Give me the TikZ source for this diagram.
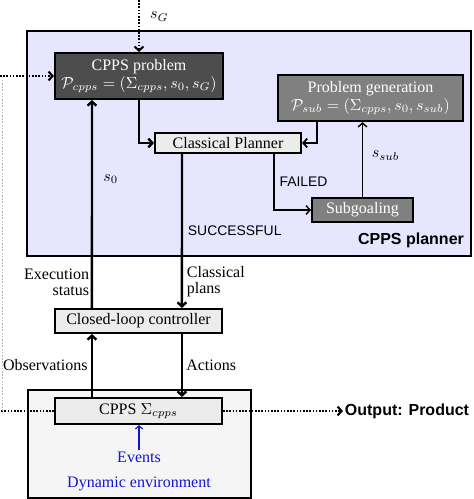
\documentclass[tikz,border=0pt]{standalone}
\usepackage{fontspec}
\setmainfont{Liberation Serif}
\setsansfont{Liberation Sans}
\usetikzlibrary{arrows.meta,calc}
\definecolor{plannerbg}{RGB}{230,230,255}
\definecolor{envbg}{RGB}{245,245,245}
\definecolor{lightbox}{RGB}{236,236,236}
\definecolor{darkbox}{RGB}{77,77,77}
\definecolor{midbox}{RGB}{128,128,128}
\definecolor{evblue}{RGB}{20,20,210}
\begin{document}
\begin{tikzpicture}[x=0.625pt,y=-0.625pt,
  box/.style={draw=black,line width=1.3pt,inner sep=0pt,rectangle},
  lightb/.style={box,fill=lightbox},
  darkb/.style={box,fill=darkbox,text=white,align=center},
  midb/.style={box,fill=midbox,text=white,align=center},
  tip/.style={-{Straight Barb[length=2.5pt,width=5.5pt]}},
  arr/.style={line width=1.5pt,tip},
  thinarr/.style={line width=0.9pt,tip},
  dotline/.style={line width=1.3pt,dash pattern=on 1pt off 1pt},
  dotarr/.style={dotline,tip},
  lbl/.style={font=\fontsize{8.7}{10}\selectfont\sffamily,inner sep=1pt},
  bold/.style={font=\sffamily\bfseries,inner sep=1pt},
  txt/.style={inner sep=1pt}
]
\useasboundingbox (0,0) rectangle (474,499);

% containers
\node[box,fill=plannerbg,minimum width=277.5pt,minimum height=140.6pt] (planner) at (249,143.5) {};
\node[box,fill=envbg,minimum width=139.4pt,minimum height=67.5pt] (env) at (139.5,444) {};

% nodes
\node[darkb,minimum width=105pt,minimum height=28.75pt] (prob) at (139,76)
  {CPPS problem\\[-1pt]$\mathcal{P}_{cpps}=(\Sigma_{cpps},s_0,s_G)$};
\node[midb,minimum width=115.6pt,minimum height=28.75pt] (probgen) at (370.5,98)
  {Problem generation\\[-1pt]$\mathcal{P}_{sub}=(\Sigma_{cpps},s_0,s_{sub})$};
\node[lightb,minimum width=91.25pt,minimum height=12.5pt] (cplanner) at (228,143) {Classical Planner};
\node[midb,minimum width=63.1pt,minimum height=15pt] (subgoal) at (362.5,210) {Subgoaling};
\node[lightb,minimum width=104.4pt,minimum height=15pt] (clc) at (138.5,321) {Closed-loop controller};
\node[lightb,minimum width=104.4pt,minimum height=16.25pt] (sigma) at (138.5,411) {CPPS $\Sigma_{cpps}$};

\node[bold] (plannerlbl) at (411,240) {CPPS planner};
\node[txt,text=evblue] (events) at (139,457) {Events};
\node[txt,text=evblue] (dynenv) at (139,484) {Dynamic environment};
\node[bold,anchor=west] (out) at (343,411) {Output: Product};

% coordinates
\coordinate (sgtop) at (139,0);
\coordinate (fbB) at (0,76);
\coordinate (fbA) at (0,411);
\coordinate (fbC) at (2.5,411);
\coordinate (fbD) at (2.5,76);

% dotted connectors
\draw[dotarr] (sgtop) -- (prob.north) node[pos=0.32,right=3pt] {$s_G$};
\draw[dotarr] (fbB) -- (prob.west);
\draw[dotline] (sigma.west) -- (fbA);
\draw[black!30,line width=0.9pt,dash pattern=on 1pt off 1pt] (fbC) -- (fbD);
\draw[dotarr] (sigma.east) -- (out.west);

% planner internals
\draw[arr] (prob.south) |- (cplanner.west);
\draw[thinarr,line width=1.1pt] ($(probgen.south west)+(40,0)$) |- (cplanner.east);
\draw[thinarr] ($(cplanner.south east)+(-28,0)$) |- (subgoal.west)
  node[lbl,pos=0.25,right=2pt] {FAILED};
\draw[thinarr] (subgoal.north) -- (subgoal.north |- probgen.south)
  node[pos=0.55,right=2pt] {$s_{sub}$};

% vertical links
\draw[arr] ($(clc.north west)+(38,0)$) -- ($(prob.south west)+(38,0)$)
  node[pos=0.62,right=3pt] {$s_0$};
\draw[arr] ($(cplanner.south west)+(28,0)$) -- ($(clc.north west)+(128,0)$)
  node[lbl,pos=0.5,right=2pt] {SUCCESSFUL};
\draw[arr] ($(sigma.north west)+(38,0)$) -- ($(clc.south west)+(38,0)$)
  node[txt,midway,left=1pt] {Observations};
\draw[arr] ($(clc.south west)+(128,0)$) -- ($(sigma.north west)+(128,0)$)
  node[txt,midway,right=1pt] {Actions};

% labels between planner and controller
\node[txt,anchor=east,align=right] (execlbl) at (91,282) {Execution\\[-2pt]status};
\node[txt,anchor=west,align=left] (planslbl) at (185,282) {Classical\\[-2pt]plans};

% events
\draw[evblue,line width=0.7pt,-{Straight Barb[length=2pt,width=4.5pt]}] (events.north) -- (events.north |- sigma.south);
\end{tikzpicture}
\end{document}
